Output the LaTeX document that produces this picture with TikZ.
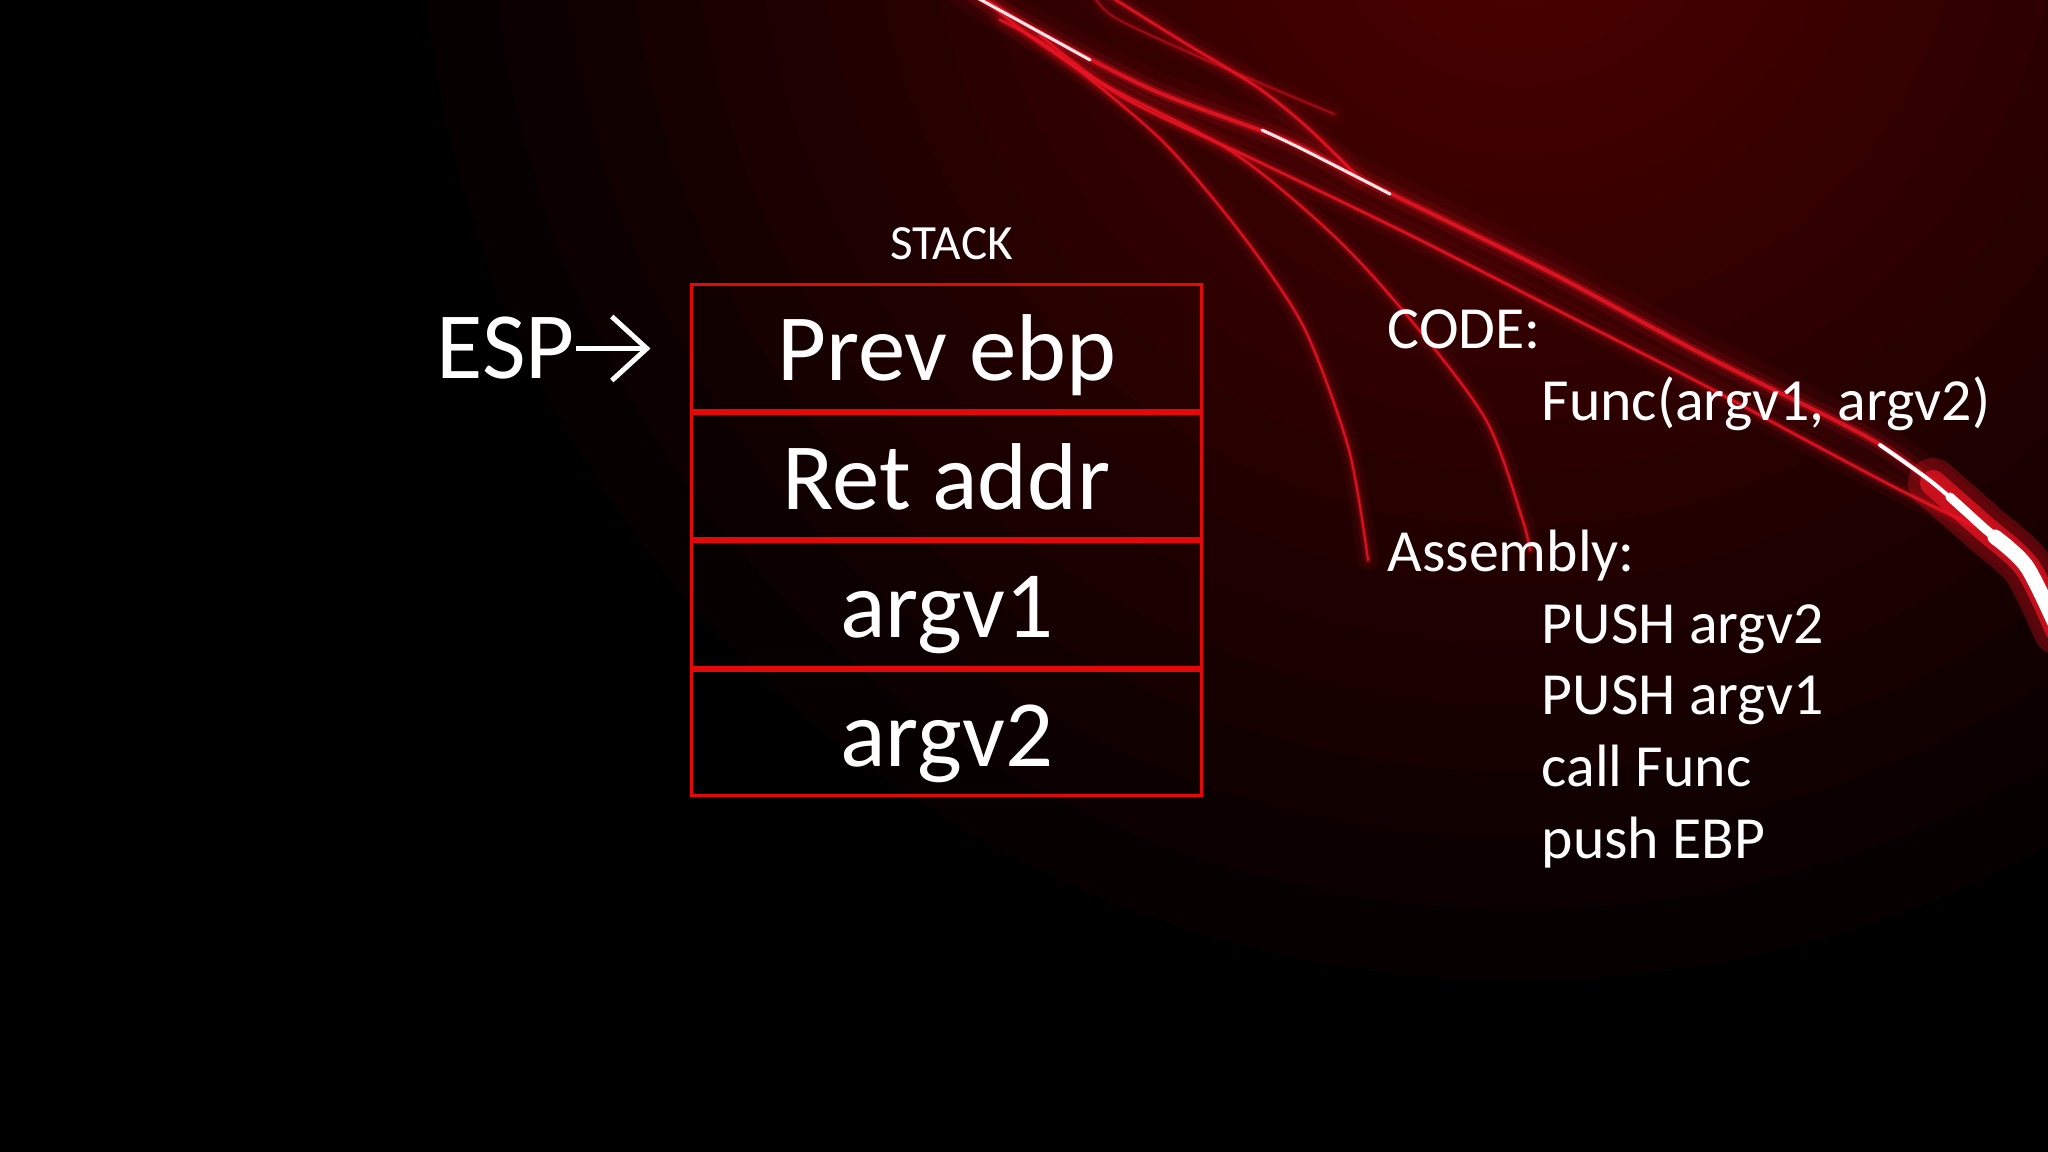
\documentclass[tikz,border=0pt]{standalone}
\usepackage{fontspec}
\setmainfont{Carlito}
\usepackage{tikz}
\usetikzlibrary{matrix,positioning,arrows.meta}

\definecolor{stackred}{RGB}{228,8,8}
\definecolor{glowred}{RGB}{110,0,12}
\definecolor{streakred}{RGB}{235,20,35}

\tikzset{
  lbl/.style={text=white, inner sep=0pt, anchor=base west, font=\fontsize{17}{20}\selectfont},
  streak/.style={streakred, line cap=round},
  core/.style={white, line cap=round},
}

\begin{document}
\begin{tikzpicture}[x=0.01cm, y=-0.01cm]
        % background
        \fill[black] (0,0) rectangle (2048,1152);
        \begin{scope}
          \clip (0,0) rectangle (2048,1152);
          \foreach \i [evaluate=\i as \r using 11*(\i/30)^2] in {1,...,30}
            \fill[glowred, opacity=0.06] (1520,-120) circle (\r cm);
          % light streaks
          \foreach \w/\o in {40/0.06, 20/0.12, 9/0.3, 4/0.85} {
            \draw[streak, line width=\w*0.1mm, opacity=\o] plot[smooth] coordinates
              {(968,-10) (1043,34) (1155,91) (1288,141) (1359,178) (1461,228) (1563,279) (1700,353) (1867,437) (1933,483) (1983,527) (2027,567) (2058,630)};
            \draw[streak, line width=0.6*\w*0.1mm, opacity=\o] plot[smooth] coordinates
              {(1100,-10) (1180,40) (1257,87) (1308,128) (1359,178)};
            \draw[streak, line width=0.6*\w*0.1mm, opacity=\o] plot[smooth] coordinates
              {(975,-10) (1027,34) (1130,101) (1257,161) (1410,235) (1563,313) (1700,383) (1800,437) (1900,490) (1983,530)};
            \draw[streak, line width=0.5*\w*0.1mm, opacity=0.5*\o] plot[smooth] coordinates
              {(1090,-10) (1114,17) (1206,60) (1334,114)};
            \draw[streak, line width=0.5*\w*0.1mm, opacity=\o] plot[smooth] coordinates
              {(1000,20) (1053,50) (1155,134) (1216,202) (1267,269) (1308,336) (1349,450) (1368,560)};
            \draw[streak, line width=0.5*\w*0.1mm, opacity=\o] plot[smooth] coordinates
              {(1040,35) (1104,84) (1231,151) (1333,235) (1410,319) (1486,420) (1522,518) (1530,550)};
          }
          % bright spots
          \draw[core, line width=0.3mm, opacity=0.9] plot[smooth] coordinates
            {(972,-5) (1043,34) (1090,60)};
          \draw[core, line width=0.3mm, opacity=0.9] plot[smooth] coordinates
            {(1262,130) (1300,148) (1359,178) (1390,194)};
          \draw[streak, line width=5mm, opacity=0.3] plot[smooth] coordinates
            {(1933,483) (1983,527) (2027,567) (2058,630)};
          \draw[streak, line width=2.6mm, opacity=0.7] plot[smooth] coordinates
            {(1933,483) (1983,527) (2027,567) (2058,630)};
          \draw[core, line width=0.4mm] plot[smooth] coordinates
            {(1880,445) (1933,483) (1983,527) (2027,567) (2058,630)};
          \draw[core, line width=0.9mm] plot[smooth] coordinates
            {(1950,497) (1983,527) (2027,567) (2058,630)};
          \draw[core, line width=1.5mm] plot[smooth] coordinates
            {(1995,537) (2027,567) (2058,630)};
        \end{scope}

        \matrix[matrix of nodes,
                anchor=north west, inner sep=0pt, outer sep=0pt,
                nodes={draw=stackred, line width=0.3mm, text=white,
                       minimum width=5.1cm, minimum height=1.255cm, anchor=center,
                       outer sep=0pt, text height=19pt, text depth=0pt,
                       font=\fontsize{27}{32}\selectfont},
                row sep=0pt] (m) at (690,283) {
          Prev ebp \\
          Ret addr \\
          argv1 \\
          argv2 \\
        };

        \node[above=0.22cm of m, xshift=0.05cm, text=white, inner sep=0pt,
              font=\fontsize{14}{17}\selectfont] (stacklbl) {STACK};

        \node[anchor=base west, text=white, inner sep=0pt,
              font=\fontsize{27}{32}\selectfont] (esp) at (436,379) {ESP};
        \draw[white, line width=0.5mm, -{Straight Barb[length=3.5mm, width=6.4mm]},
              shorten >=0.41cm] (esp.east) -- (esp.east -| m-1-1.west);

        \node[lbl] (code) at (1387,349) {CODE:};
        \node[lbl] (func) at (1541,421) {Func(argv1, argv2)};
        \node[lbl] (asm) at (1387,571) {Assembly:};
        \node[lbl] (push2) at (1541,643) {PUSH argv2};
        \node[lbl] (push1) at (1541,714) {PUSH argv1};
        \node[lbl] (callf) at (1541,786) {call Func};
        \node[lbl] (pushebp) at (1541,858) {push EBP};
\end{tikzpicture}
\end{document}
